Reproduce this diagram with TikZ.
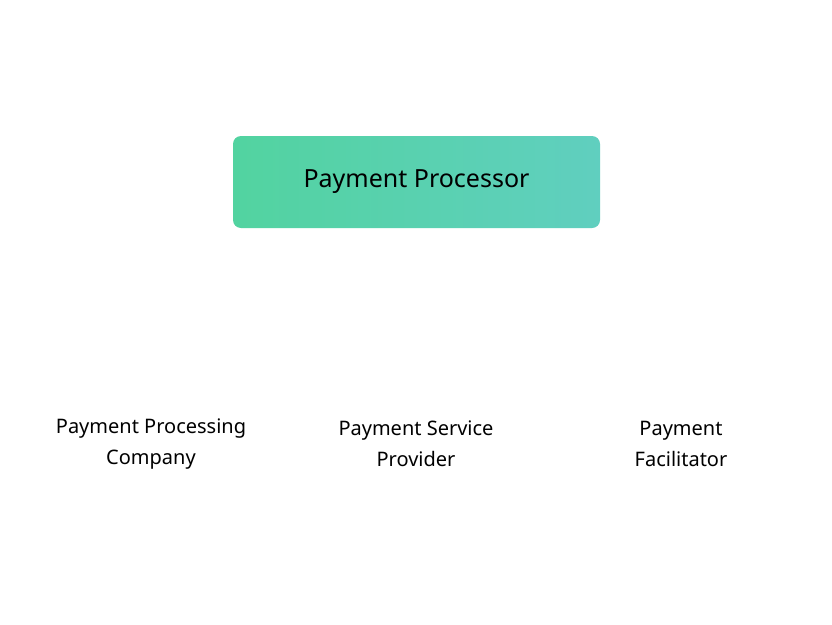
\documentclass[tikz,border=0pt]{standalone}
\usepackage{fontspec}
\setmainfont{Noto Sans}
\begin{document}
\begin{tikzpicture}[x=1pt,y=-1pt,
  lbl/.style={align=center,font=\fontsize{20}{31}\selectfont\bfseries,text=black}]
\definecolor{gL}{HTML}{52D3A0}
\definecolor{gR}{HTML}{60CFBF}
\useasboundingbox (0,0) rectangle (832,624);
\fill[white] (0,0) rectangle (832,624);
\node[rounded corners=8pt,left color=gL,right color=gR,minimum width=367pt,minimum height=92pt,inner sep=0pt] (pp) at (416.5,182) {};
\node[font=\fontsize{25}{30}\selectfont\bfseries] (ppt) at (pp.center) {Payment Processor};
\node[lbl] (a) at (151,444) {Payment Processing\\Company};
\node[lbl] (b) at (416,444) {Payment Service\\Provider};
\node[lbl] (c) at (681,444) {Payment\\Facilitator};
\end{tikzpicture}
\end{document}
